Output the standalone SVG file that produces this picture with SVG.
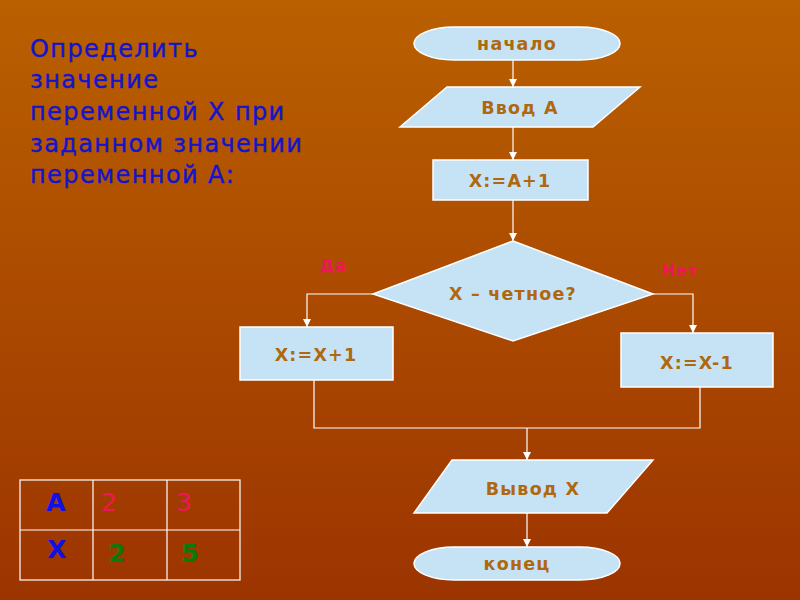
<svg xmlns="http://www.w3.org/2000/svg" width="800" height="600" viewBox="0 0 800 600">
<defs>
<linearGradient id="bg" x1="0" y1="0" x2="0" y2="1">
<stop offset="0" stop-color="#BA6000"/>
<stop offset="1" stop-color="#9C3400"/>
</linearGradient>
<marker id="arr" viewBox="0 0 10 10" refX="10" refY="5" markerWidth="8" markerHeight="8" markerUnits="userSpaceOnUse" orient="auto">
<path d="M0,0 L10,5 L0,10 z" fill="#FFFFFF"/>
</marker>
<style>
.shape{fill:#C6E3F6;stroke:#FFFFFF;stroke-width:1.5}
.lbl{font-family:"DejaVu Sans",sans-serif;font-weight:bold;font-size:17.5px;fill:#B0680F;text-anchor:middle;letter-spacing:1.2px}
.conn{fill:none;stroke:#FFFFFF;stroke-width:1.2}
.title{font-family:"DejaVu Sans",sans-serif;font-size:24px;fill:#1414CC;letter-spacing:1.4px;stroke:#1414CC;stroke-width:0.4}
.yn{font-family:"DejaVu Sans",sans-serif;font-weight:bold;font-size:16px;fill:#F0145A;letter-spacing:1px}
.grid{fill:none;stroke:#FFFFFF;stroke-width:1.2}
.tb{font-family:"DejaVu Sans",sans-serif;font-size:25px;text-anchor:middle}
</style>
</defs>
<rect x="0" y="0" width="800" height="600" fill="url(#bg)"/>

<g id="title">
<text class="title" x="30" y="57">Определить</text>
<text class="title" x="30" y="88">значение</text>
<text class="title" x="30" y="120">переменной Х при</text>
<text class="title" x="30" y="152">заданном значении</text>
<text class="title" x="30" y="183">переменной А:</text>
</g>

<g id="connectors">
<line class="conn" x1="513" y1="60" x2="513" y2="87" marker-end="url(#arr)"/>
<line class="conn" x1="513" y1="127" x2="513" y2="160" marker-end="url(#arr)"/>
<line class="conn" x1="513" y1="200" x2="513" y2="241" marker-end="url(#arr)"/>
<polyline class="conn" points="373,294 307,294 307,327" marker-end="url(#arr)"/>
<polyline class="conn" points="653,294 693,294 693,333" marker-end="url(#arr)"/>
<polyline class="conn" points="314,380 314,428 700,428 700,387"/>
<line class="conn" x1="527" y1="428" x2="527" y2="460" marker-end="url(#arr)"/>
<line class="conn" x1="527" y1="513" x2="527" y2="547" marker-end="url(#arr)"/>
</g>

<g id="start">
<rect class="shape" x="414" y="27" width="206" height="33" rx="40" ry="16.5"/>
<text class="lbl" x="517" y="50">начало</text>
</g>
<g id="input">
<polygon class="shape" points="447,87 640,87 593,127 400,127"/>
<text class="lbl" x="520" y="114">Ввод А</text>
</g>
<g id="assign1">
<rect class="shape" x="433" y="160" width="155" height="40"/>
<text class="lbl" x="510" y="187">X:=A+1</text>
</g>
<g id="decision">
<polygon class="shape" points="513,241 653,294 513,341 373,294"/>
<text class="lbl" x="513" y="300">X – четное?</text>
</g>
<text class="yn" x="320" y="271">Да</text>
<text class="yn" x="662" y="276">Нет</text>
<g id="inc">
<rect class="shape" x="240" y="327" width="153" height="53"/>
<text class="lbl" x="316" y="361">X:=X+1</text>
</g>
<g id="dec">
<rect class="shape" x="621" y="333" width="152" height="54"/>
<text class="lbl" x="697" y="369">X:=X-1</text>
</g>
<g id="output">
<polygon class="shape" points="452,460 653,460 607,513 414,513"/>
<text class="lbl" x="533" y="495">Вывод X</text>
</g>
<g id="end">
<rect class="shape" x="414" y="547" width="206" height="33" rx="40" ry="16.5"/>
<text class="lbl" x="517" y="570">конец</text>
</g>

<g id="table">
<rect class="grid" x="20" y="480" width="220" height="100"/>
<line class="grid" x1="93" y1="480" x2="93" y2="580"/>
<line class="grid" x1="167" y1="480" x2="167" y2="580"/>
<line class="grid" x1="20" y1="530" x2="240" y2="530"/>
<text class="tb" x="56" y="511" fill="#1010E8" font-weight="bold">A</text>
<text class="tb" x="109" y="511" fill="#F0145A">2</text>
<text class="tb" x="184" y="511" fill="#F0145A">3</text>
<text class="tb" x="57" y="558" fill="#1010E8" font-weight="bold">X</text>
<text class="tb" x="117" y="562" fill="#0A7A0A" font-weight="bold">2</text>
<text class="tb" x="190" y="562" fill="#0A7A0A" font-weight="bold">5</text>
</g>
</svg>
